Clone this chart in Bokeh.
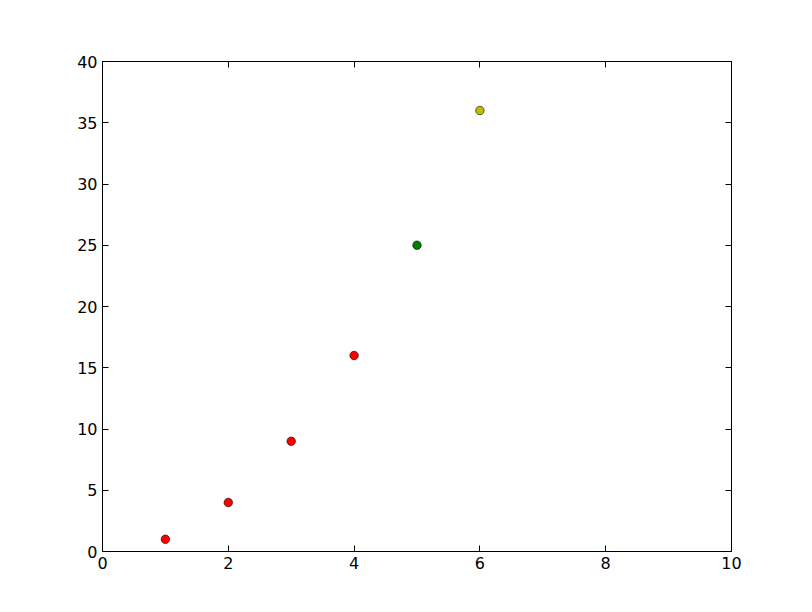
from bokeh.plotting import figure
from bokeh.models import LinearAxis, FixedTicker, Range1d, CustomJSTickFormatter
from bokeh.embed import file_html
from bokeh.resources import INLINE

xs = [1, 2, 3, 4, 5, 6]
ys = [1, 4, 9, 16, 25, 36]
colors = ["#ff0000", "#ff0000", "#ff0000", "#ff0000", "#008000", "#bfbf00"]
x_ticks = [0, 2, 4, 6, 8, 10]
y_ticks = [0, 5, 10, 15, 20, 25, 30, 35, 40]

p = figure(width=796, height=596, output_backend="svg", toolbar_location=None,
           x_range=Range1d(0, 10), y_range=Range1d(0, 40),
           x_axis_location=None, y_axis_location=None)
p.min_border_left = 102
p.min_border_right = 65
p.min_border_top = 61
p.min_border_bottom = 45
p.grid.visible = False
p.outline_line_color = "black"
p.outline_line_width = 1
p.background_fill_color = "white"
p.border_fill_color = "white"

def mk_axis(ticks, show_labels):
    ax = LinearAxis(ticker=FixedTicker(ticks=ticks))
    ax.major_tick_in = 6
    ax.major_tick_out = 0
    ax.minor_tick_in = 0
    ax.minor_tick_out = 0
    ax.axis_line_color = "black"
    ax.major_tick_line_color = "black"
    ax.major_label_text_font = "DejaVu Sans"
    ax.major_label_text_font_size = "16px"
    ax.major_label_text_color = "black"
    ax.major_label_standoff = 5
    if not show_labels:
        ax.formatter = CustomJSTickFormatter(code="return ''")
        ax.major_label_standoff = 0
    return ax

p.add_layout(mk_axis(x_ticks, True), "below")
p.add_layout(mk_axis(y_ticks, True), "left")
p.add_layout(mk_axis(x_ticks, False), "above")
p.add_layout(mk_axis(y_ticks, False), "right")

p.scatter(xs, ys, size=8.5, fill_color=colors, line_color="black", line_width=0.6)

open("out.html", "w").write(file_html(p, INLINE))
